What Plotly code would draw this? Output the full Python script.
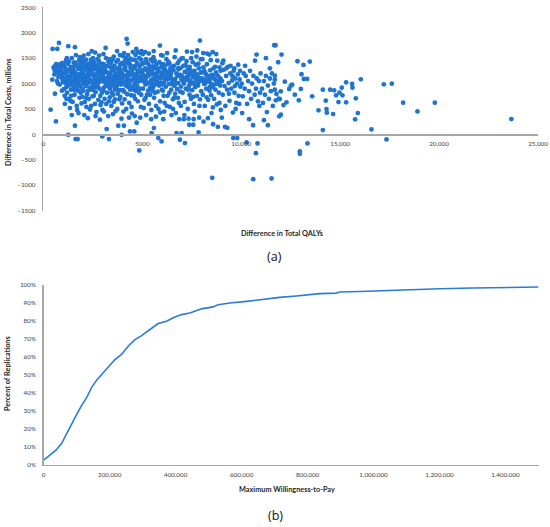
import plotly.graph_objects as go

# ---------------- data: (a) scatter ----------------
qaly_diff = [
    370,455,470,640,707,791,590,520,560,610, 650,690,720,760,800,830,870,900,930,960, 980,600,680,740,820,880,940,990,560,780,
    1020,1040,1060,1080,1100,1120,1140,1160,1180,1200, 1220,1240,1263,1263,1280,1300,1320,1347,1360,1380,
    1400,1420,1440,1460,1480,1500,1520,1540,1560,1580, 1600,1600,1620,1633,1650,1670,1690,1710,1735,1750,
    1770,1790,1810,1830,1850,1870,1890,1910,1930,1950, 1970,1990,1050,1110,1170,1230,1290,1350,1410,1470,
    1530,1590,1650,1710,1770,1830,1890,1950,1020,1130, 1250,1370,1490,1610,1730,1850,1970,1090,1310,1530,
    1750,1970,1190,1410,1630,1850,1440,1780,
    2010,2030,2060,2080,2100,2120,2150,2170,2190,2210, 2240,2260,2280,2300,2330,2350,2370,2390,2420,2440,
    2460,2480,2510,2530,2550,2570,2600,2620,2640,2660, 2690,2710,2730,2750,2780,2800,2820,2840,2870,2890,
    2910,2940,2960,2980,2990,2020,2090,2160,2230,2290, 2360,2420,2490,2560,2620,2690,2750,2820,2880,2950,
    2050,2130,2200,2270,2340,2410,2480,2550,2610,2680, 2740,2810,2870,2940,2070,2250,2450,2640,2860,2990,
    2110,2320,2520,2720,2930,2180,2590,2780,
    3010,3030,3050,3080,3100,3120,3150,3170,3190,3200, 3220,3240,3270,3290,3317,3320,3340,3370,3390,3410,
    3440,3460,3480,3500,3530,3550,3570,3600,3620,3640, 3660,3690,3710,3740,3760,3789,3800,3820,3850,3870,
    3890,3920,3940,3957,3970,3990,3040,3110,3180,3250, 3310,3380,3450,3510,3580,3650,3720,3780,3850,3920,
    3980,3060,3140,3230,3300,3360,3430,3490,3560,3630, 3700,3770,3840,3910,3060,3280,3520,3730,3950,3150,
    3350,3560,3760,3960,3090,3420,3610,3880,
    4010,4030,4060,4075,4090,4110,4140,4160,4180,4210, 4220,4240,4260,4270,4290,4320,4340,4360,4378,4390,
    4410,4440,4460,4480,4510,4530,4560,4580,4597,4610, 4630,4660,4680,4700,4730,4750,4780,4800,4820,4850,
    4860,4880,4910,4930,4950,4980,4020,4090,4150,4230, 4300,4370,4440,4500,4570,4640,4710,4770,4840,4910,
    4970,4050,4190,4330,4480,4620,4760,4900,4040,4130, 4250,4350,4450,4550,4650,4750,4850,4950,4080,4280,
    4520,4700,4960,4120,4400,4640,4900,4720,
    5010,5040,5060,5090,5110,5140,5160,5190,5210,5240, 5260,5290,5310,5340,5360,5390,5410,5440,5473,5460,
    5490,5510,5540,5560,5590,5600,5620,5650,5670,5700, 5720,5750,5780,5810,5820,5850,5870,5894,5900,5930,
    5960,5978,5990,5030,5100,5170,5230,5300,5370,5430, 5500,5570,5640,5710,5770,5840,5910,5980,5070,5200,
    5330,5450,5580,5690,5820,5950,5050,5180,5280,5400, 5520,5630,5740,5860,5990,5150,5350,5550,
    6010,6040,6070,6100,6130,6160,6190,6220,6250,6280, 6310,6340,6370,6400,6430,6460,6490,6520,6550,6580,
    6610,6640,6670,6700,6736,6730,6760,6790,6820,6850, 6880,6904,6920,6950,6989,6980,6030,6110,6200,6290,
    6370,6450,6540,6620,6700,6780,6870,6950,6060,6260, 6480,6690,6870,6020,6150,6320,6500,6660,6840,6930,
    6120,6400,6600,6800,6560,6240,6980,6080,
    7010,7040,7080,7110,7140,7157,7170,7200,7240,7270, 7300,7330,7360,7376,7400,7430,7460,7490,7520,7550,
    7578,7580,7610,7640,7670,7700,7730,7760,7790,7820, 7848,7860,7890,7915,7920,7950,7980,7050,7130,7220,
    7310,7390,7470,7560,7650,7740,7830,7920,7070,7190, 7320,7440,7580,7700,7840,7960,7100,7340,7600,7880,
    7260,7520,7780,7650,7410,
    8020,8060,8090,8130,8160,8200,8230,8270,8300,8330, 8360,8387,8400,8430,8470,8500,8538,8530,8560,8600,
    8630,8670,8700,8730,8770,8800,8830,8870,8900,8940, 8970,8040,8140,8250,8350,8460,8570,8680,8790,8900,
    8100,8320,8580,8820,8950,8180,8420,8650,8880,8080, 8560,8740,8280,8960,8480,
    9030,9070,9110,9160,9200,9240,9290,9330,9370,9410, 9450,9500,9540,9580,9599,9620,9660,9700,9750,9801,
    9790,9830,9870,9920,9960,9050,9180,9300,9460,9650, 9850,9100,9380,9560,9720,9900,9250,9020,9680,9940,
    10030,10080,10130,10180,10230,10272,10300,10350,10400,10450, 10500,10550,10609,10620,10680,10744,10750,10777,10790,10828,
    10850,10900,10950,10050,10400,10600,10980,10200,10700,10920,
    11050,11100,11150,11200,11250,11300,11350,11400,11450,11500, 11535,11600,11670,11650,11150,11350,11450,11250,11550,11700,
    11700,11700,11785,11750,11953,12003,11903,11920,12004,11870, 11735,12040,
    12138,12290,12206,12424,12509,12576,12711,12845,12913,13014, 13048,13149,13166,13334,13469,13587,13351,12964,12964,13907,
    14126,14126,14277,14311,14328,14496,14648,14698,14799,14917, 14968,15085,15119,15304,15304,15607,15624,15759,15793,15894,
    16046,16585,17208,17343,17612,18184,18908,19784,23655,
]
cost_diff = [
    486,1077,1682,256,1682,1800,800,1320,1180,1250, 1380,1050,1220,1130,1300,980,1150,1260,1400,1090, 1200,1350,1290,1000,1180,1330,860,1030,1270,1370,
    1120,890,1340,760,1210,1010,1450,930,1280,820, 1150,1390,1735,-7,1060,700,1240,519,980,1330,
    880,1180,1500,1020,640,1260,940,1410,1090,780, 171,1715,1220,-92,990,1370,560,1120,-92,860,
    1290,1040,1460,720,1190,950,1350,1080,610,1250, 900,1420,1040,1290,700,950,1430,1130,760,1300,
    1180,870,1560,480,1010,1140,820,1480,1390,1080, 1260,660,1060,1410,930,1520,1130,600,1010,1330,
    1170,740,1500,1280,1030,1300,380,420,
    1210,860,1370,1050,640,1290,950,1470,1130,790, 1240,1010,1580,700,1160,920,1400,1070,560,1320,
    880,1200,1500,990,760,1280,1090,1610,830,1180, 440,1350,1000,1230,680,1450,1110,900,1300,580,
    1060,1390,820,-40,1170,1000,1450,720,1380,1080, 490,1250,750,1420,1040,1300,950,1550,760,1240,
    1550,1130,1010,860,1300,1470,1010,1150,600,930, 1480,1260,1040,630,380,320,1640,360,290,480,
    1320,1200,880,1100,1110,540,1340,1380,
    1150,860,1380,1030,700,1270,950,1500,1100,105, 820,1220,1010,1430,-92,650,1170,900,1320,1060,
    560,1250,960,1480,780,1140,1000,1350,690,1200, 930,1430,1080,500,1300,171,870,1160,1020,1560,
    740,1240,980,-7,1400,1110,1580,1100,600,1350, 940,1200,820,1300,1050,460,1130,1010,1300,870,
    610,920,1340,1060,1190,730,1410,1090,640,1010, 1180,1460,690,1100,450,360,400,1640,310,1700,
    1480,1530,800,1200,1220,1020,880,1370,
    1180,870,1380,171,1040,690,1270,960,1500,1879, 1110,790,1787,1230,1000,1440,620,1160,59,880,
    1320,1060,540,1250,940,1470,1100,760,59,1300, 1010,1560,850,1190,960,1400,650,1130,1040,-315,
    1330,900,1230,540,1470,1060,1540,840,1330,1050, 930,1380,770,1180,1340,700,1060,1250,820,1080,
    1380,450,500,330,410,360,1620,330,1030,1150, 1410,1000,1200,880,1140,910,1500,780,1600,1560,
    1620,1680,1640,1440,1490,1460,1600,230,
    1200,900,1400,1040,680,1300,980,1480,1120,780, 1250,1010,1380,600,1160,920,1330,1060,26,480,
    1250,860,1430,1100,125,720,1300,980,1190,560, 1380,1040,840,-72,1240,960,1420,1748,650,1100,
    1320,-138,880,1580,1150,720,1410,860,1230,1470, 1010,1520,820,1080,1300,1130,430,1200,520,380,
    1590,300,1640,350,500,1560,1090,1270,1170,780, 1190,1450,1210,1010,1370,1620,1010,920,
    1150,860,1380,1020,620,1270,940,1480,1100,760, 1220,990,1400,540,1160,880,1330,1040,690,1260,
    960,1520,1090,420,26,1200,890,1400,1010,620, 1150,-105,840,1310,26,1080,1550,450,1180,1380,
    820,1100,1280,720,1010,1160,1450,560,300,1600, 380,1650,300,1010,1090,1430,990,800,1280,1170,
    1330,1210,1350,720,500,560,1490,760,
    1130,820,1350,1000,640,-171,1230,900,1440,1070, 500,1200,950,190,1330,1050,700,1180,870,1420,
    190,1020,600,1250,930,1370,1090,760,1170,960, 39,1300,560,1846,1060,1220,850,1500,380,1120,
    1290,780,1500,1120,450,1530,1010,690,1040,1360, 880,1260,740,1180,1390,1480,300,310,300,330,
    1630,1620,1650,1010,1000,
    1100,780,1320,990,560,1200,900,1380,1060,680, 1150,1570,860,1260,1000,420,-854,1170,930,1300,
    700,1080,880,1220,590,1000,1150,820,1320,960, 480,1480,1250,730,1040,1460,530,1330,1450,620,
    250,320,200,150,1100,1000,1080,980,1060,1600, 1620,1580,1590,1250,770,
    1050,780,1270,950,560,1150,880,1330,1010,660, 1200,900,1060,430,-72,1250,820,1100,620,-72,
    1000,1180,760,1080,940,1400,150,130,1350,1300, 1370,1450,800,1150,500,600,1300,330,950,1250,
    1000,750,1200,900,1150,-158,600,1050,850,1250, 700,1000,-880,1150,780,-368,900,1570,1100,-177,
    650,1050,820,420,300,180,1200,1350,1450,560,
    900,620,1050,780,1150,440,960,700,1100,850, -867,560,1754,1000,280,180,1300,1500,1200,1156,
    1077,880,795,670,696,847,703,355,388,1419, 1754,1570,
    578,631,1038,894,959,979,782,1439,670,894, 1183,1367,1091,1091,1432,749,-177,-335,-381,473,
    880,85,664,499,427,880,401,867,769,637, 821,920,769,1025,631,992,920,296,710,420,
    1084,99,986,-99,999,624,453,624,302,
]
# extra dots filling the dense core of the cloud (read from the solid region, 1,000-9,000 QALYs)
qaly_core = [
    1150,1330,1520,1700,1880, 2040,2210,2390,2570,2750,2930, 3080,3260,3440,3620,3800,3980,
    4100,4280,4460,4640,4820, 5000,5180,5360,5540,5720,5900, 6090,6270,6450,6630,6810,6990,
    7150,7330,7510,7690,7870, 8050,8230,8410,8590,8770,
    1240,1420,1600,1790,1960, 2140,2310,2490,2670,2850, 3020,3200,3380,3560,3740,3920,
    4070,4250,4430,4610,4790,4960, 5140,5320,5500,5680,5860, 6050,6230,6410,6590,6770,6950,
    7120,7300,7480,7660,7840, 8010,8190,8370,8550,8730,8910,
]
cost_core = [
    1230,1110,1290,1060,1400, 1320,1100,1210,1360,1020,1280, 1240,1120,1330,1060,1250,1170,
    1300,1080,1230,1350,1110, 1260,1050,1210,1340,1130,1000, 1250,1080,1210,960,1300,1150,
    1230,1080,1000,1190,1110, 1050,1170,930,1120,1010,
    990,1240,1140,1310,1060, 1160,1330,940,1070,1190, 1350,1030,1110,1270,960,1090,
    1040,1170,1300,970,1230,1160, 1110,1290,940,1060,1230, 980,1130,1290,1070,1180,940,
    1060,1140,1240,990,1110, 1220,1080,1140,960,1180,1030,
]
qaly_ticks = [0, 5000, 10000, 15000, 20000, 25000]
qaly_tick_labels = ["0", "5000", "10,000", "15,000", "20,000", "25,000"]
cost_ticks = [-1500, -1000, -500, 0, 500, 1000, 1500, 2000, 2500]

# ---------------- data: (b) acceptability curve ----------------
wtp = [0, 19000, 38000, 54500, 69600, 84800, 100000, 115000, 130000, 145000,
       160500, 180500, 200800, 216000, 236000, 256000, 276500, 296800, 322000, 347000,
       372500, 392500, 418000, 443000, 478500, 513600, 528800, 564000, 614800, 665000,
       715600, 766000, 796500, 836800, 887000, 897000, 958000, 1018000, 1100000, 1200000,
       1300000, 1400000, 1500000]
pct_replications = [2.4, 5.2, 8.1, 11.8, 17.4, 22.4, 27.9, 32.9, 37.2, 42.8,
                    47.0, 51.1, 55.2, 58.5, 61.3, 65.9, 69.6, 71.8, 75.2, 78.5,
                    79.8, 81.7, 83.5, 84.4, 86.7, 87.8, 89.0, 90.0, 90.9, 92.2,
                    93.1, 93.9, 94.6, 95.2, 95.5, 96.1, 96.4, 96.8, 97.4, 97.9,
                    98.3, 98.6, 98.9]
wtp_ticks = [0, 200000, 400000, 600000, 800000, 1000000, 1200000, 1400000]
wtp_tick_labels = ["0", "200,000", "400,000", "600,000", "800,000", "1,000,000", "1,200,000", "1,400,000"]
pct_ticks = [0, 10, 20, 30, 40, 50, 60, 70, 80, 90, 100]

# ---------------- figure ----------------
W, H = 550, 527
BLUE = "#1f74d2"
AXIS = "#a6a6a6"
TICK_FONT = dict(family="Lato, Carlito, Liberation Sans, sans-serif", size=6.3, color="#404040")
TITLE_FONT = dict(family="Lato, Carlito, Liberation Sans, sans-serif", size=7.3, color="#262626", weight="bold")

def px_x(p):
    return p / W

def px_y(p):
    return 1 - p / H

fig = go.Figure()

fig.add_trace(go.Scatter(
    x=qaly_diff + qaly_core, y=cost_diff + cost_core, mode="markers",
    marker=dict(color=BLUE, size=4.8, line=dict(width=0)),
    xaxis="x", yaxis="y", showlegend=False, hoverinfo="x+y", cliponaxis=False,
))

fig.add_trace(go.Scatter(
    x=wtp, y=[v / 100 for v in pct_replications], mode="lines",
    line=dict(color="#2b7bd6", width=1.6),
    xaxis="x2", yaxis="y2", showlegend=False,
))

top_y0, top_y1 = 210.7, 7.3        # pixel rows of -1500 and 2500
zero_row = top_y1 + (2500 / 4000) * (top_y0 - top_y1)

common = dict(showgrid=False, zeroline=False, showline=True, linecolor=AXIS, linewidth=1.5,
              ticks="", tickfont=TICK_FONT, automargin=False)

fig.update_layout(
    width=W, height=H,
    margin=dict(l=0, r=0, t=0, b=0, autoexpand=False),
    paper_bgcolor="white", plot_bgcolor="white",
    xaxis=dict(
        domain=[px_x(43.3), px_x(538.0)], range=[0, 25000],
        anchor="free", position=px_y(zero_row),
        tickvals=qaly_ticks, ticktext=qaly_tick_labels, ticklabelstandoff=3, **common,
    ),
    yaxis=dict(
        domain=[px_y(top_y0), px_y(top_y1)], range=[-1500, 2500],
        anchor="x", tickvals=cost_ticks, ticklabelstandoff=5, **common,
    ),
    xaxis2=dict(
        domain=[px_x(43.7), px_x(538.5)], range=[0, 1500000],
        anchor="y2", tickvals=wtp_ticks, ticktext=wtp_tick_labels, ticklabelstandoff=3, **common,
    ),
    yaxis2=dict(
        domain=[px_y(464.5), px_y(285.0)], range=[0, 1.0],
        anchor="x2", tickvals=[v / 100 for v in pct_ticks], tickformat=".0%",
        ticklabelstandoff=5, **common,
    ),
)

annotations = [
    dict(text="Difference in Total QALYs", x=px_x(282), y=px_y(233), font=TITLE_FONT),
    dict(text="Difference in Total Costs, millions", x=px_x(8), y=px_y(112), font=TITLE_FONT, textangle=-90),
    dict(text="(a)", x=px_x(274), y=px_y(256),
         font=dict(family="Open Sans, Lato, sans-serif", size=12.5, color="#111111")),
    dict(text="Maximum Willingness-to-Pay", x=px_x(287), y=px_y(489), font=TITLE_FONT),
    dict(text="Percent of Replications", x=px_x(7), y=px_y(374), font=TITLE_FONT, textangle=-90),
    dict(text="(b)", x=px_x(275), y=px_y(515),
         font=dict(family="Open Sans, Lato, sans-serif", size=12.5, color="#111111")),
]
for a in annotations:
    a.update(xref="paper", yref="paper", showarrow=False, xanchor="center", yanchor="middle")
fig.update_layout(annotations=annotations)

# remove the browser's default 8 px page margin so the 550x527 figure fills the window exactly
fig.write_html(
    "out.html",
    config={"displayModeBar": False, "staticPlot": True},
    post_script="document.body.style.margin='0';document.body.style.overflow='hidden';",
)
